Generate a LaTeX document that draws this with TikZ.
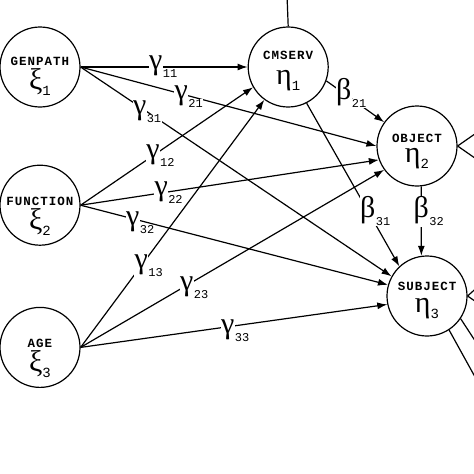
\documentclass[tikz,border=0pt]{standalone}
\usepackage{fontspec}
\setmainfont{Liberation Serif}
\newfontfamily\codefont{Liberation Mono}
\newfontfamily\namefont[LetterSpace=8]{Liberation Mono}
\usepackage{tikz}
\usetikzlibrary{arrows.meta, positioning}

\setlength{\fboxsep}{0.5pt}
\newcommand{\latname}[1]{{\namefont\bfseries\fontsize{12.5}{14}\selectfont #1}}
\newcommand{\latsym}[2]{{\fontsize{30}{30}\selectfont #1}\raisebox{-6pt}{\codefont\fontsize{14}{14}\selectfont #2}}
% name and symbol, each lifted to its own height in the circle
\newcommand{\latvar}[5]{\makebox[0pt]{\raisebox{#4}[0pt][0pt]{\latname{#1}}}\makebox[0pt]{\raisebox{#5}[0pt][0pt]{\latsym{#2}{#3}}}}
\newcommand{\pathcoef}[2]{{\fontsize{30}{30}\selectfont #1}\rlap{\raisebox{-8pt}{\colorbox{white}{\codefont\fontsize{12}{12}\selectfont #2}}}}

\begin{document}
\begin{tikzpicture}[x=1pt, y=1pt, node distance=57pt]
    % Node Styles
    \tikzstyle{latent} = [circle, draw, line width=1.2pt, minimum size=80pt, inner sep=0pt]
    \tikzstyle{coef} = [fill=white, inner sep=0.5pt]
    \tikzstyle{line} = [draw, line width=1.2pt, -{Latex[length=10pt,width=7pt]}]
    \tikzstyle{stub} = [draw, line width=1.2pt]

    \useasboundingbox (0,0) rectangle (474,-474);

    % --- LEFT COLUMN: EXOGENOUS ---
    \node [latent] (genpath) at (40,-67) {\latvar{GENPATH}{ξ}{1}{2pt}{-22pt}};
    \node [latent, below=57pt of genpath] (function) {\latvar{FUNCTION}{ξ}{2}{0pt}{-24pt}};
    \node [latent, below=61pt of function] (age) {\latvar{AGE}{ξ}{3}{0pt}{-24pt}};

    % --- RIGHT SIDE: ENDOGENOUS ---
    \node [latent, right=167pt of genpath] (cmserv) {\latvar{CMSERV}{η}{1}{8pt}{-17pt}};
    \node [latent] (object) at (417,-146) {\latvar{OBJECT}{η}{2}{4pt}{-16pt}};
    \node [latent] (subject) at (427,-296) {\latvar{SUBJECT}{η}{3}{6pt}{-16pt}};

    % --- PATHS FROM GENPATH ---
    \path [line] (genpath.east) -- node[coef, pos=0.45] {\pathcoef{γ}{11}} (cmserv.180);
    \path [line] (genpath.east) -- node[coef, pos=0.34, yshift=-3pt] {\pathcoef{γ}{21}} (object.180);
    \path [line] (genpath.east) -- node[coef, pos=0.19, yshift=-5pt] {\pathcoef{γ}{31}} (subject.151);

    % --- PATHS FROM FUNCTION ---
    \path [line] (function.east) -- node[coef, pos=0.42] {\pathcoef{γ}{12}} (cmserv.210);
    \path [line] (function.east) -- node[coef, pos=0.27] {\pathcoef{γ}{22}} (object.200);
    \path [line] (function.east) -- node[coef, pos=0.17, yshift=-4pt] {\pathcoef{γ}{32}} (subject.164);

    % --- PATHS FROM AGE ---
    \path [line] (age.east) -- node[coef, pos=0.33] {\pathcoef{γ}{13}} (cmserv.234);
    \path [line] (age.east) -- node[coef, pos=0.35, yshift=-3pt] {\pathcoef{γ}{23}} (object.216);
    \path [line] (age.east) -- node[coef, pos=0.48, yshift=-4pt] {\pathcoef{γ}{33}} (subject.192);

    % --- PATHS AMONG ETAS ---
    \path [line] (cmserv.340) -- node[coef, pos=0.3] {\pathcoef{β}{21}} (object.144);
    \path [line] (cmserv.297) -- node[coef, pos=0.66] {\pathcoef{β}{31}} (subject.133);
    \path [line] (object.276) -- node[coef, pos=0.36] {\pathcoef{β}{32}} (subject.98);

    % --- CUT-OFF LINKS AT THE EDGES ---
    \coordinate (cmtop) at (287,5);
    \coordinate (objup) at (482,-129);
    \coordinate (objdown) at (482,-163);
    \coordinate (subup) at (482,-283);
    \coordinate (subdown) at (482,-306);
    \coordinate (suba) at (485,-356);
    \coordinate (subb) at (485,-395);
    \path [stub] (cmserv.north) -- (cmtop);
    \path [stub] (object.east) -- (objup);
    \path [stub] (object.east) -- (objdown);
    \path [stub] (subject.east) -- (subup);
    \path [stub] (subject.east) -- (subdown);
    \path [stub] (subject.326) -- (suba);
    \path [stub] (subject.303) -- (subb);

\end{tikzpicture}
\end{document}
